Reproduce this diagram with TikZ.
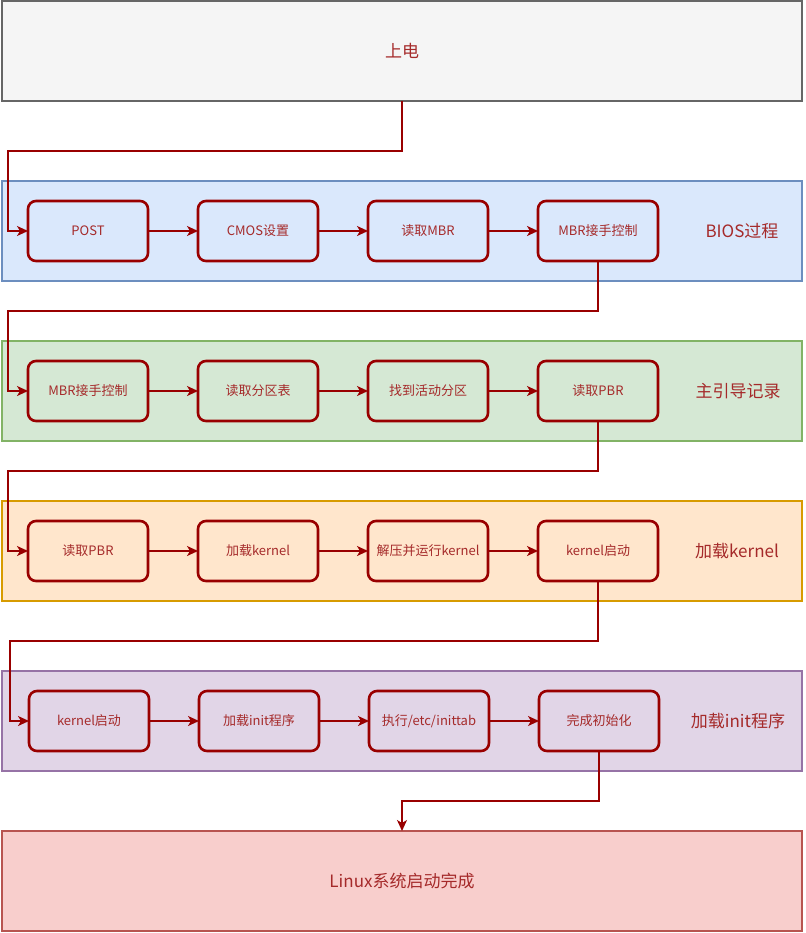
\documentclass[tikz,border=0pt]{standalone}
\usepackage{fontspec}
\setmainfont{Noto Sans CJK SC}
\usepackage{tikz}
\usetikzlibrary{%
  arrows.meta,%
  positioning,% wg. " of "
  shapes%
}
\definecolor{darkred}{HTML}{990000}
\definecolor{txtred}{HTML}{A52A2A}
\definecolor{grayfill}{HTML}{F5F5F5}
\definecolor{graydraw}{HTML}{666666}
\definecolor{bluefill}{HTML}{DAE8FC}
\definecolor{bluedraw}{HTML}{6C8EBF}
\definecolor{greenfill}{HTML}{D5E8D4}
\definecolor{greendraw}{HTML}{82B366}
\definecolor{orangefill}{HTML}{FFE6CC}
\definecolor{orangedraw}{HTML}{D79B00}
\definecolor{purplefill}{HTML}{E1D5E7}
\definecolor{purpledraw}{HTML}{9673A6}
\definecolor{redfill}{HTML}{F8CECC}
\definecolor{reddraw}{HTML}{B85450}

\begin{document}
\begin{tikzpicture}[x=1pt,y=-1pt]
       \tikzset{step box/.style ={rectangle, minimum width=120pt, minimum height=60pt, outer sep=0pt,
                rounded corners=8pt, draw=darkred, line width=2.6pt, text=txtred, font=\fontsize{13}{15}\selectfont}}

       \tikzset{band/.style={rectangle, minimum width=800pt, minimum height=100pt, outer sep=0pt, line width=2.6pt}}
       \tikzset{bandlabel/.style={text=txtred, font=\fontsize{17}{20}\selectfont}}

       \tikzset{arr/.style={draw=darkred, line width=1.6pt, -{Stealth[length=11pt,width=10pt,inset=3pt]}}}

       \useasboundingbox (0,0) rectangle (805,933);

       % boxes
       \node[band, fill=grayfill, draw=graydraw] (power) at (402,51) {};
       \node[bandlabel] at (power) {上电};
       \node[band, fill=bluefill, draw=bluedraw] (bios) at (402,231) {};
       \node[band, fill=greenfill, draw=greendraw] (mbr) at (402,391) {};
       \node[band, fill=orangefill, draw=orangedraw] (kern) at (402,551) {};
       \node[band, fill=purplefill, draw=purpledraw] (init) at (402,721) {};
       \node[band, fill=redfill, draw=reddraw] (finish) at (402,881) {};
       \node[bandlabel] at (finish) {Linux系统启动完成};

       \node[bandlabel] at (742,231) {BIOS过程};
       \node[bandlabel] at (738,391) {主引导记录};
       \node[bandlabel] at (737,551) {加载kernel};
       \node[bandlabel] at (738,721) {加载init程序};

       % BIOS
       \node[step box] (post) at (88,231) {POST};
       \node[step box, right = 50pt of post] (cmos) {CMOS设置};
       \node[step box, right = 50pt of cmos] (readmbr) {读取MBR};
       \node[step box, right = 50pt of readmbr] (handover) {MBR接手控制};

       % MBR
       \node[step box] (mbrctl) at (88,391) {MBR接手控制};
       \node[step box, right = 50pt of mbrctl] (ptable) {读取分区表};
       \node[step box, right = 50pt of ptable] (active) {找到活动分区};
       \node[step box, right = 50pt of active] (pbr) {读取PBR};

       % kernel
       \node[step box] (readpbr) at (88,551) {读取PBR};
       \node[step box, right = 50pt of readpbr] (loadk) {加载kernel};
       \node[step box, right = 50pt of loadk] (unzip) {解压并运行kernel};
       \node[step box, right = 50pt of unzip] (kstart) {kernel启动};

       % init
       \node[step box] (kboot) at (89,721) {kernel启动};
       \node[step box, right = 50pt of kboot] (loadinit) {加载init程序};
       \node[step box, right = 50pt of loadinit] (inittab) {执行/etc/inittab};
       \node[step box, right = 50pt of inittab] (done) {完成初始化};

       \draw[arr] (power.south) -- ++(0,50) -| ([xshift=-20pt]post.west) -- (post.west);
       \draw[arr] (post) -- (cmos);
       \draw[arr] (cmos) -- (readmbr);
       \draw[arr] (readmbr) -- (handover);
       \draw[arr] (handover.south) -- ++(0,50) -| ([xshift=-20pt]mbrctl.west) -- (mbrctl.west);
       \draw[arr] (mbrctl) -- (ptable);
       \draw[arr] (ptable) -- (active);
       \draw[arr] (active) -- (pbr);
       \draw[arr] (pbr.south) -- ++(0,50) -| ([xshift=-20pt]readpbr.west) -- (readpbr.west);
       \draw[arr] (readpbr) -- (loadk);
       \draw[arr] (loadk) -- (unzip);
       \draw[arr] (unzip) -- (kstart);
       \draw[arr] (kstart.south) -- ++(0,60) -| ([xshift=-19pt]kboot.west) -- (kboot.west);
       \draw[arr] (kboot) -- (loadinit);
       \draw[arr] (loadinit) -- (inittab);
       \draw[arr] (inittab) -- (done);
       \draw[arr] (done.south) -- ++(0,50) -| (finish.north);
\end{tikzpicture}
\end{document}
